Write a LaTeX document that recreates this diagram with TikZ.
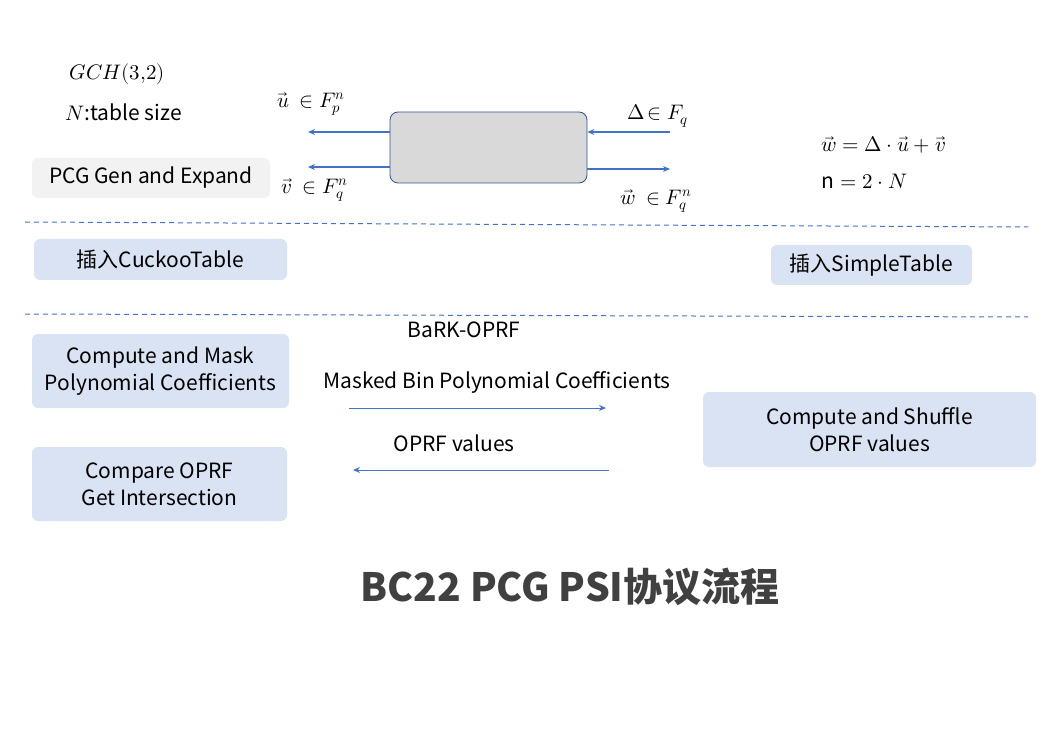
\documentclass[tikz,border=0pt]{standalone}
\usepackage{unicode-math}
\setmainfont{Noto Sans CJK SC}
\setmathfont{Latin Modern Math}
\usetikzlibrary{arrows.meta}
\definecolor{boxblue}{HTML}{DAE3F3}
\definecolor{arr}{HTML}{4472C4}
\definecolor{edge}{HTML}{2F528F}
\begin{document}
\begin{tikzpicture}[x=1pt,y=-1pt,
  box/.style={rounded corners=6pt,fill=boxblue,draw=none,align=center,font=\fontsize{21}{27}\selectfont},
  ar/.style={draw=arr,line width=1.3pt,-{Stealth[length=7pt,width=6pt]}},
  dl/.style={draw=arr,line width=1pt,dash pattern=on 5pt off 4pt},
  txt/.style={font=\fontsize{21}{27}\selectfont},
  mt/.style={font=\fontsize{21}{27}\selectfont}]
\useasboundingbox (0,0) rectangle (1042,730);
\node[mt,anchor=west] (gch) at (66,74) {$GCH(3{,}2)$};
\node[txt,anchor=west] (ns) at (62,112) {$N$:table size};
\node[box,fill=gray!10,minimum width=238pt,minimum height=40pt] (pcg) at (151,178) {PCG Gen and Expand};
\node[rounded corners=8pt,fill=gray!30,draw=edge,line width=0.8pt,minimum width=197pt,minimum height=71pt] (g) at (488.5,147.5) {};
\coordinate (u) at (308,132);
\coordinate (v) at (308,167);
\coordinate (d) at (670,132);
\coordinate (w) at (670,169);
\draw[ar] (g.west|-u) -- (u);
\draw[ar] (g.west|-v) -- (v);
\draw[ar] (d) -- (g.east|-d);
\draw[ar] (g.east|-w) -- (w);
\node[mt] (ul) at (311,104) {$\vec{u}\ \in F_p^n$};
\node[mt] (vl) at (315,190) {$\vec{v}\ \in F_q^n$};
\node[mt] (dlb) at (658,116) {$\Delta\!\in F_q$};
\node[mt] (wl) at (656,201) {$\vec{w}\ \in F_q^n$};
\node[mt,anchor=west] (f1) at (818,145) {$\vec{w}=\Delta\cdot\vec{u}+\vec{v}$};
\node[mt,anchor=west] (f2) at (818,181) {$\mathrm{n}=2\cdot N$};
\coordinate (a1) at (25,222); \coordinate (a2) at (1028,227);
\draw[dl] (a1) -- (a2);
\coordinate (b1) at (25,314); \coordinate (b2) at (1028,317);
\draw[dl] (b1) -- (b2);
\node[box,minimum width=253pt,minimum height=41pt] (ck) at (160.5,259.5) {插入CuckooTable};
\node[box,minimum width=201pt,minimum height=40pt] (st) at (871.5,265) {插入SimpleTable};
\node[box,minimum width=257pt,minimum height=74pt] (cm) at (160.5,371) {Compute and Mask\\Polynomial Coefficients};
\node[box,minimum width=255pt,minimum height=74pt] (co) at (159.5,484) {Compare OPRF\\Get Intersection};
\node[box,minimum width=333pt,minimum height=75pt] (cs) at (869.5,429.5) {Compute and Shuffle\\OPRF values};
\node[txt] (bark) at (464,330) {BaRK-OPRF};
\node[txt] (mb) at (497,382) {Masked Bin Polynomial Coefficients};
\node[txt] (ov) at (454,443) {OPRF values};
\coordinate (m1) at (349,408); \coordinate (m2) at (606,408);
\draw[ar,line width=1pt] (m1) -- (m2);
\coordinate (o1) at (609,470); \coordinate (o2) at (353,470);
\draw[ar,line width=1pt] (o1) -- (o2);
\node[font=\fontsize{39}{46}\selectfont\bfseries,text=black!75] (title) at (570,587) {BC22 PCG PSI协议流程};
\end{tikzpicture}
\end{document}
